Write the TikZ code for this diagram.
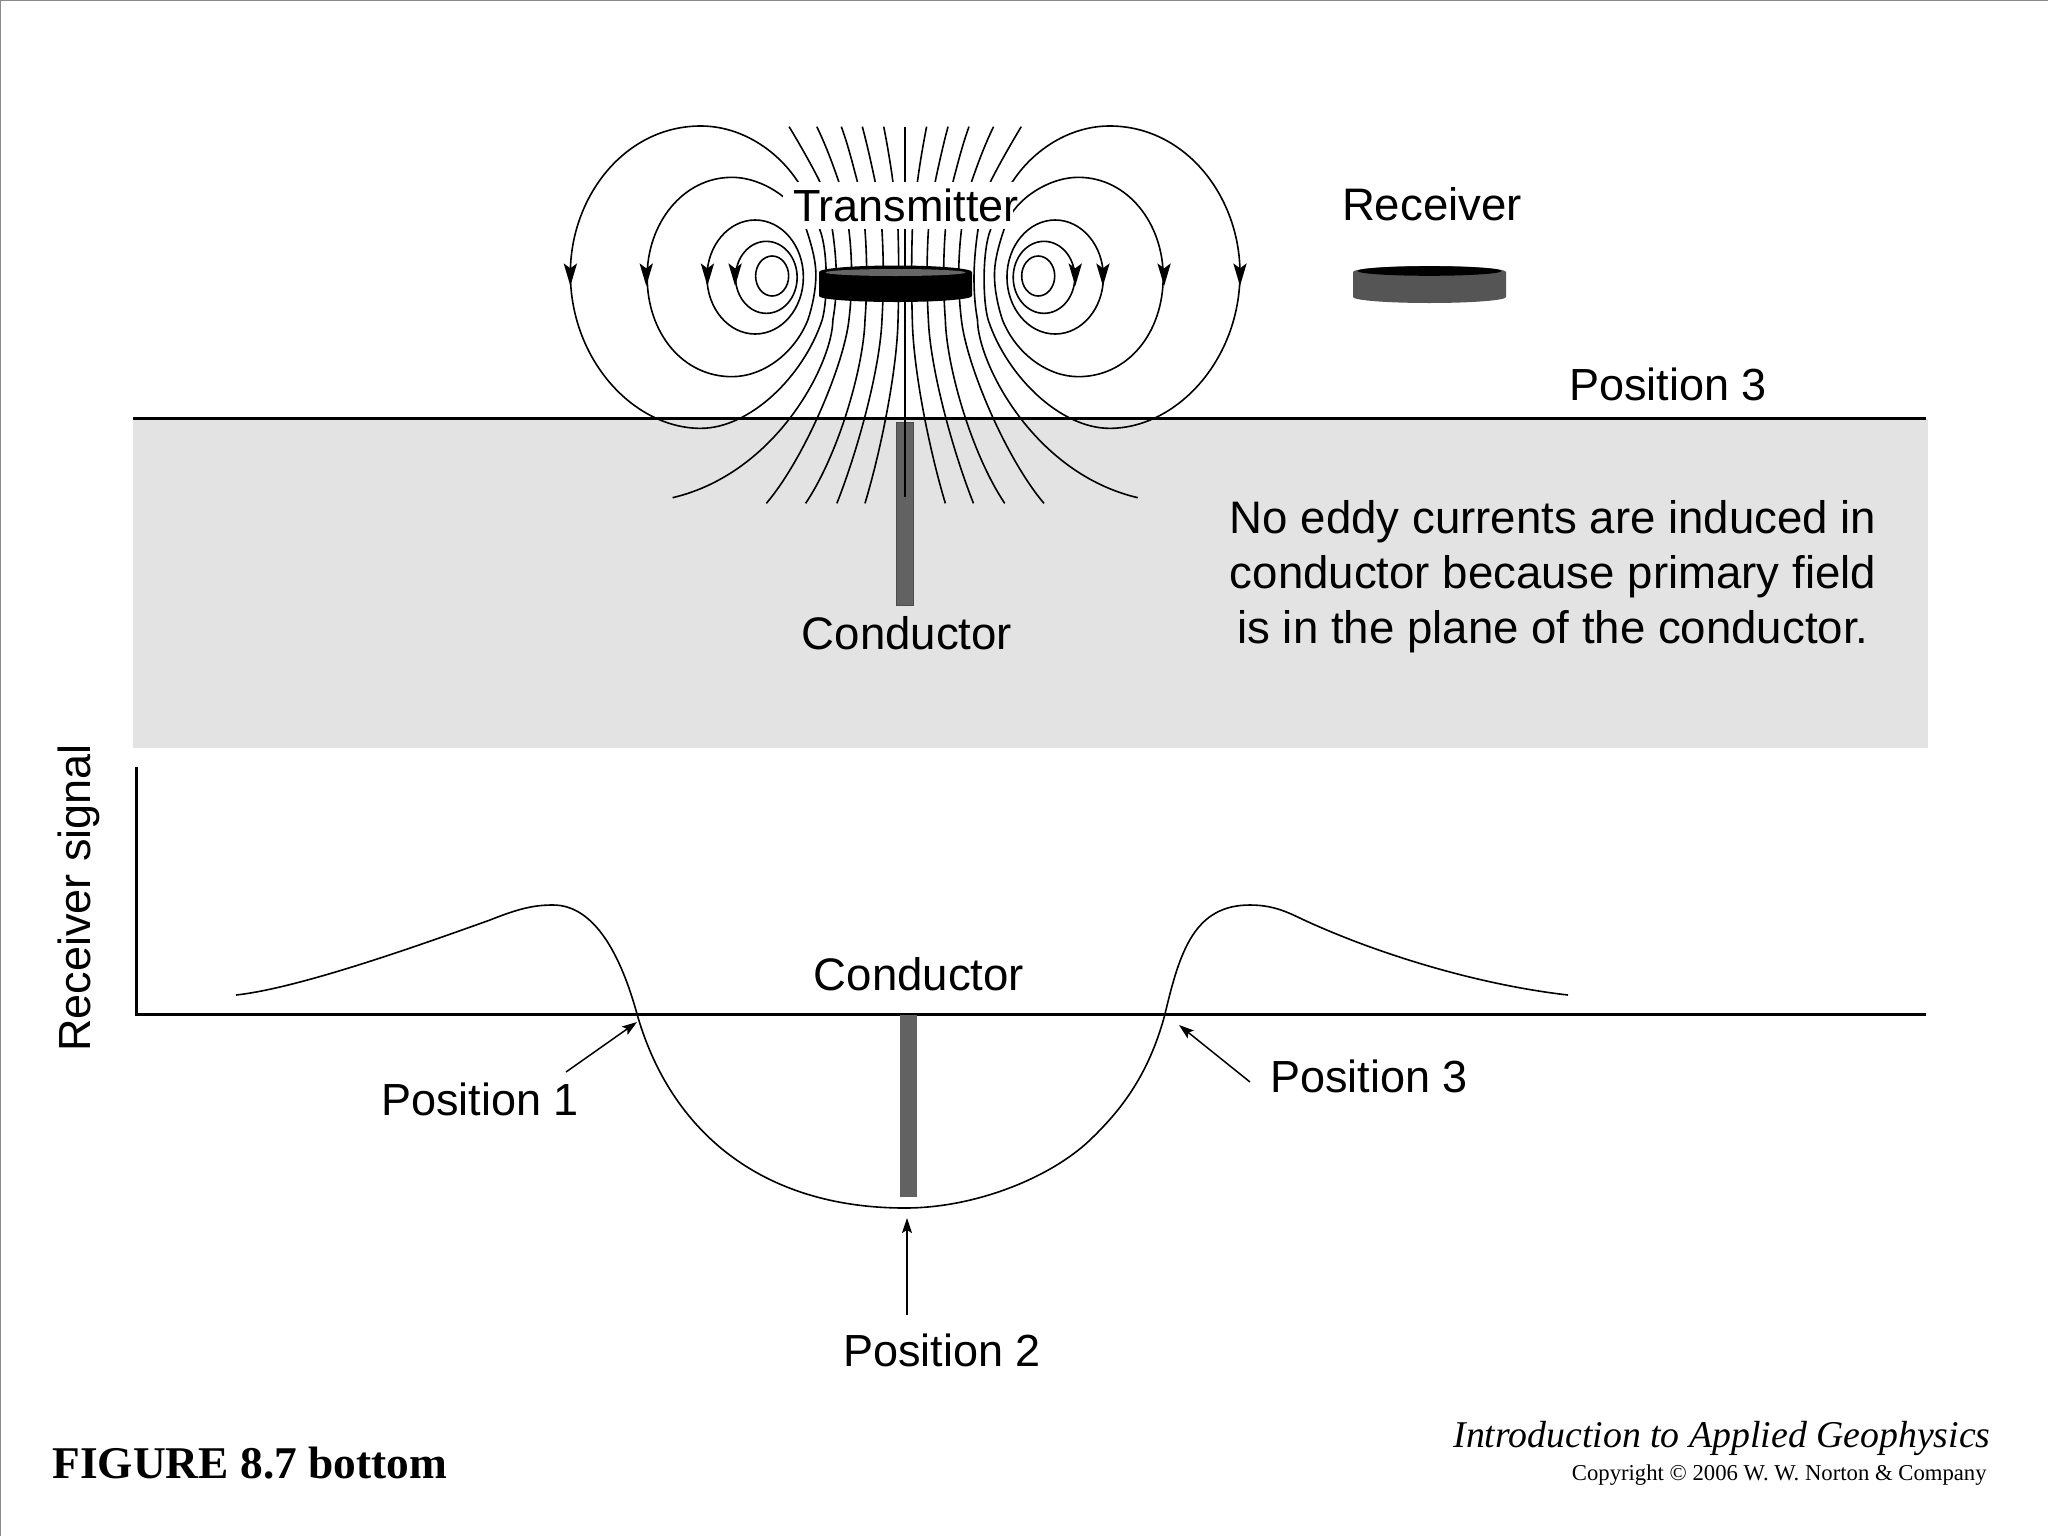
\documentclass[tikz,border=0pt]{standalone}
\usepackage{fontspec}
\setmainfont{Liberation Sans}
\newfontfamily\serifface{Liberation Serif}
\usetikzlibrary{arrows.meta}
\definecolor{groundgray}{HTML}{E3E3E3}
\definecolor{condgray}{HTML}{626262}
\definecolor{coiltop}{HTML}{666666}
\definecolor{recgray}{HTML}{555555}
\definecolor{edgegray}{HTML}{8A8A8A}
\tikzset{
  fieldline/.style={black,line width=0.8pt},
  axisline/.style={black,line width=1.5pt},
  curveline/.style={black,line width=0.8pt},
  ptr/.style={black,line width=0.75pt,-{Stealth[length=7.5pt,width=5pt,inset=1.5pt]}},
  lbl/.style={font=\fontsize{22.5}{27}\selectfont,anchor=base,inner sep=0pt},
  lblb/.style={font=\fontsize{22.8}{27}\selectfont,anchor=base,inner sep=0pt},
}
\newcommand{\hdarrow}[1]{\fill (#1,558) -- (#1-15,490) -- (#1,505) -- (#1+15,490) -- cycle;}
\newcommand{\fieldhalf}{%
  % closed loops
  \draw[fieldline] (520,528) ellipse (37 and 60);
  \draw[fieldline] (507,532) ellipse (69 and 108);
  \draw[fieldline] (482,531) ellipse (108 and 171);
  % loop 2
  \draw[fieldline] (540,285) .. controls (565,310) and (590,350) .. (597,390)
    .. controls (612,450) and (618,490) .. (618,525)
    .. controls (618,570) and (610,620) .. (600,660)
    .. controls (570,760) and (500,830) .. (430,830)
    .. controls (320,830) and (240,700) .. (240,530)
    .. controls (240,370) and (320,232) .. (430,232)
    .. controls (470,232) and (510,255) .. (540,285);
  % loop 1
  \draw[fieldline] (627,390) .. controls (615,330) and (598,280) .. (575,240)
    .. controls (530,150) and (450,78) .. (360,78)
    .. controls (190,78) and (68,290) .. (68,520)
    .. controls (68,780) and (210,985) .. (360,985)
    .. controls (470,985) and (590,830) .. (632,660)
    .. controls (645,600) and (645,450) .. (627,390);
  % open lines
  \draw[fieldline] (558,80) .. controls (585,140) and (610,200) .. (625,240)
    .. controls (640,285) and (650,340) .. (655,390)
    .. controls (665,480) and (668,570) .. (656,660)
    .. controls (655,790) and (530,1120) .. (297,1193);
  \draw[fieldline] (620,80) .. controls (640,135) and (655,190) .. (668,240)
    .. controls (680,290) and (688,340) .. (692,390)
    .. controls (700,480) and (700,570) .. (692,660)
    .. controls (680,800) and (590,1080) .. (507,1210);
  \draw[fieldline] (675,80) .. controls (690,135) and (700,190) .. (710,240)
    .. controls (718,290) and (725,340) .. (728,390)
    .. controls (733,480) and (733,570) .. (728,660)
    .. controls (725,800) and (670,1060) .. (595,1210);
  \draw[fieldline] (722,80) .. controls (733,135) and (742,190) .. (750,240)
    .. controls (756,290) and (762,340) .. (766,390)
    .. controls (770,480) and (770,570) .. (766,660)
    .. controls (762,800) and (715,1040) .. (665,1210);
  \draw[fieldline] (770,80) .. controls (778,135) and (785,190) .. (790,240)
    .. controls (795,290) and (800,340) .. (802,390)
    .. controls (804,480) and (804,570) .. (802,660)
    .. controls (800,800) and (768,1030) .. (728,1210);
  % arrowheads
  \hdarrow{68}\hdarrow{238}\hdarrow{375}\hdarrow{437}
}
\begin{document}
\begin{tikzpicture}[x=0.5pt,y=-0.5pt]
\useasboundingbox (0,0) rectangle (2048,1536);
\fill[white] (0,0) rectangle (2048,1536);
% page edge
\draw[edgegray,line width=0.8pt] (0.5,1536) -- (0.5,0.5) -- (2048,0.5);
% ground
\fill[groundgray] (133,419) rectangle (1928,748);
\draw[axisline] (133,418) -- (1926,418);
% conductor (section)
\fill[condgray] (896,422) rectangle (913,605);
\draw[black!70,line width=0.4pt] (896,422) rectangle (913,605);
% field
\begin{scope}[shift={(540,100)},x=0.22321pt,y=-0.16667pt]
  \fieldhalf
  \begin{scope}[shift={(1636,0)},xscale=-1]
    \fieldhalf
  \end{scope}
  \draw[fieldline] (818,80) -- (818,1190);
  \fill[white] (545,245) rectangle (1060,388);
\end{scope}
% transmitter coil
\path[fill=black] (819,272) -- (819,296) arc[start angle=180,end angle=0,x radius=76.5,y radius=6]
  -- (972,272) arc[start angle=0,end angle=-180,x radius=76.5,y radius=6.5] -- cycle;
\fill[coiltop] (895.5,272.5) ellipse (70 and 3.5);
% receiver coil
\path[fill=recgray] (1353,272) -- (1353,297) arc[start angle=180,end angle=0,x radius=76.5,y radius=6]
  -- (1506,272) arc[start angle=0,end angle=-180,x radius=76.5,y radius=6] -- cycle;
\fill[black] (1429.5,271) ellipse (72 and 4.8);
% labels top
\node[lbl] (transmitter) at (906,221) {Transmitter};
\node[lblb] (receiver) at (1432,220) {Receiver};
\node[lbl] (posthree) at (1668,400) {Position 3};
\node[lblb] (condup) at (907,649) {Conductor};
\node[font=\fontsize{22.8}{27.5}\selectfont,align=center,inner sep=0pt] (note) at (1553,576.5)
  {No eddy currents are induced in\\conductor because primary field\\is in the plane of the conductor.};
% graph
\draw[axisline] (136,767) -- (136,1014) -- (1926,1014);
\node[lbl,rotate=90] (ylab) at (90,898) {Receiver signal};
\fill[condgray] (900,1015) rectangle (917,1197);
\node[lblb] (condlow) at (919,990) {Conductor};
\draw[curveline] (236,995) .. controls (300,988) and (420,945) .. (490,920)
  .. controls (520,908) and (535,905) .. (553,905)
  .. controls (590,905) and (618,945) .. (637,1014)
  .. controls (670,1130) and (760,1208) .. (905,1208)
  .. controls (975,1208) and (1050,1178) .. (1090,1140)
  .. controls (1118,1113) and (1148,1078) .. (1165,1014)
  .. controls (1180,950) and (1195,905) .. (1250,905)
  .. controls (1275,905) and (1290,913.5) .. (1304,920)
  .. controls (1380,955) and (1480,985) .. (1568,995);
\node[lbl] (posone) at (480,1115) {Position 1};
\node[lbl] (posthreeb) at (1369,1092) {Position 3};
\node[lbl] (postwo) at (942,1366) {Position 2};
\coordinate (ponetail) at (566,1072);
\coordinate (ponetip) at (637,1022);
\coordinate (pthreetail) at (1250,1082);
\coordinate (pthreetip) at (1179,1025);
\coordinate (ptwotail) at (907,1315);
\coordinate (ptwotip) at (907,1218);
\draw[ptr] (ponetail) -- (ponetip);
\draw[ptr] (pthreetail) -- (pthreetip);
\draw[ptr] (ptwotail) -- (ptwotip);
% captions
\node[anchor=base west,inner sep=0pt,font=\serifface\bfseries\fontsize{22.7}{27}\selectfont] (figcap) at (52,1478.5) {FIGURE 8.7 bottom};
\node[anchor=base east,inner sep=0pt,font=\serifface\itshape\fontsize{18.9}{23}\selectfont] (book) at (1991,1447) {Introduction to Applied Geophysics};
\node[anchor=base east,inner sep=0pt,font=\serifface\fontsize{11.35}{14}\selectfont] (copy) at (1987,1480) {Copyright © 2006 W. W. Norton \& Company};
\end{tikzpicture}
\end{document}
